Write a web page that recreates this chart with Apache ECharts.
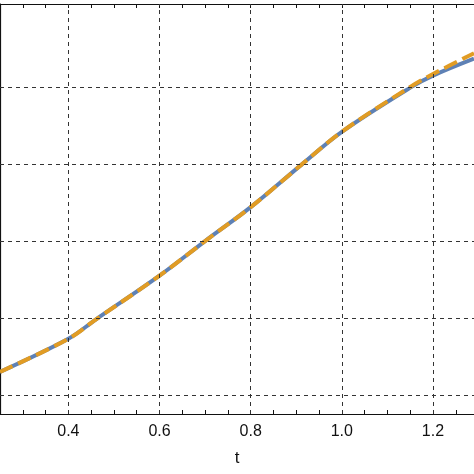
<!DOCTYPE html>
<html lang="en">
<head>
	<meta charset="UTF-8">
	<title>t curve</title>
	<script src="https://cdn.jsdelivr.net/npm/echarts@6/dist/echarts.min.js"></script>
	<style>body{margin:0;background:#fff}</style>
</head>
<body>
    <div id="main" style="width: 474px;height:474px;"></div>
    <script type="text/javascript">
    	// values
    	var tValues = [0.25, 0.4, 0.46, 0.6, 0.7, 0.8, 0.913, 1.0, 1.152, 1.2, 1.29];
    	var blueValues = [1.30, 1.73, 1.98, 2.55, 3.0, 3.44, 4.0, 4.42, 5.0, 5.15, 5.37];
    	var orangeValues = [1.30, 1.73, 1.98, 2.55, 3.0, 3.44, 4.0, 4.42, 5.01, 5.17, 5.44];
    	var gridT = [0.4, 0.6, 0.8, 1.0, 1.2];
    	var gridY = [1, 2, 3, 4, 5];

    	function pairs(ys) {
    		return tValues.map(function (t, i) { return [t, ys[i]]; });
    	}

    	var dashed = { color: '#333', type: [4, 4], width: 1 };
    	var myChart = echarts.init(document.getElementById('main'));
		var option = {
			animation: false,
			grid: { left: 0, right: 0, top: 4, bottom: 60 },
		    xAxis: [{
		        type: 'value', min: 0.25, max: 1.29, interval: 0.05,
		        name: 't', nameLocation: 'middle', nameGap: 36,
		        nameTextStyle: { fontFamily: 'Liberation Sans', fontSize: 17, color: '#111' },
		        axisLine: { lineStyle: { color: '#111', width: 1.2 } },
		        axisTick: { inside: true, length: 4, lineStyle: { color: '#111' } },
		        axisLabel: {
		        	fontFamily: 'Liberation Sans', fontSize: 16, color: '#111', margin: 10,
		        	showMinLabel: false, showMaxLabel: false,
		        	formatter: function (v) {
		        		var k = v / 0.2;
		        		return Math.abs(k - Math.round(k)) < 1e-6 ? v.toFixed(1) : '';
		        	}
		        },
		        splitLine: { show: false }
		    }, {
		        type: 'value', position: 'top', min: 0.25, max: 1.29, interval: 0.05,
		        axisLine: { lineStyle: { color: '#111', width: 1.2 } },
		        axisTick: { inside: true, length: 4, lineStyle: { color: '#111' } },
		        axisLabel: { show: false },
		        splitLine: { show: false }
		    }],
		    yAxis: {
		        type: 'value', min: 0.753, max: 6.08,
		        axisLine: { show: true, lineStyle: { color: '#111', width: 1.2 } },
		        axisTick: { show: false },
		        axisLabel: { show: false },
		        splitLine: { show: false }
		    },
		    series: [
		        {
		            type: 'line', smooth: 0.35, symbol: 'none',
		            lineStyle: { color: '#5E81B5', width: 4 },
		            data: pairs(blueValues),
		            markLine: {
		            	silent: true, symbol: 'none', label: { show: false },
		            	lineStyle: dashed,
		            	data: gridT.map(function (t) { return { xAxis: t }; })
		            		.concat(gridY.map(function (y) { return { yAxis: y }; }))
		            },
		            z: 3
		        },
		        {
		            type: 'line', smooth: 0.35, symbol: 'none',
		            lineStyle: { color: '#E19C24', width: 4, type: [14, 6] },
		            data: pairs(orangeValues),
		            z: 4
		        }
		    ]
		};
		myChart.setOption(option);
    </script>
</body>
</html>
